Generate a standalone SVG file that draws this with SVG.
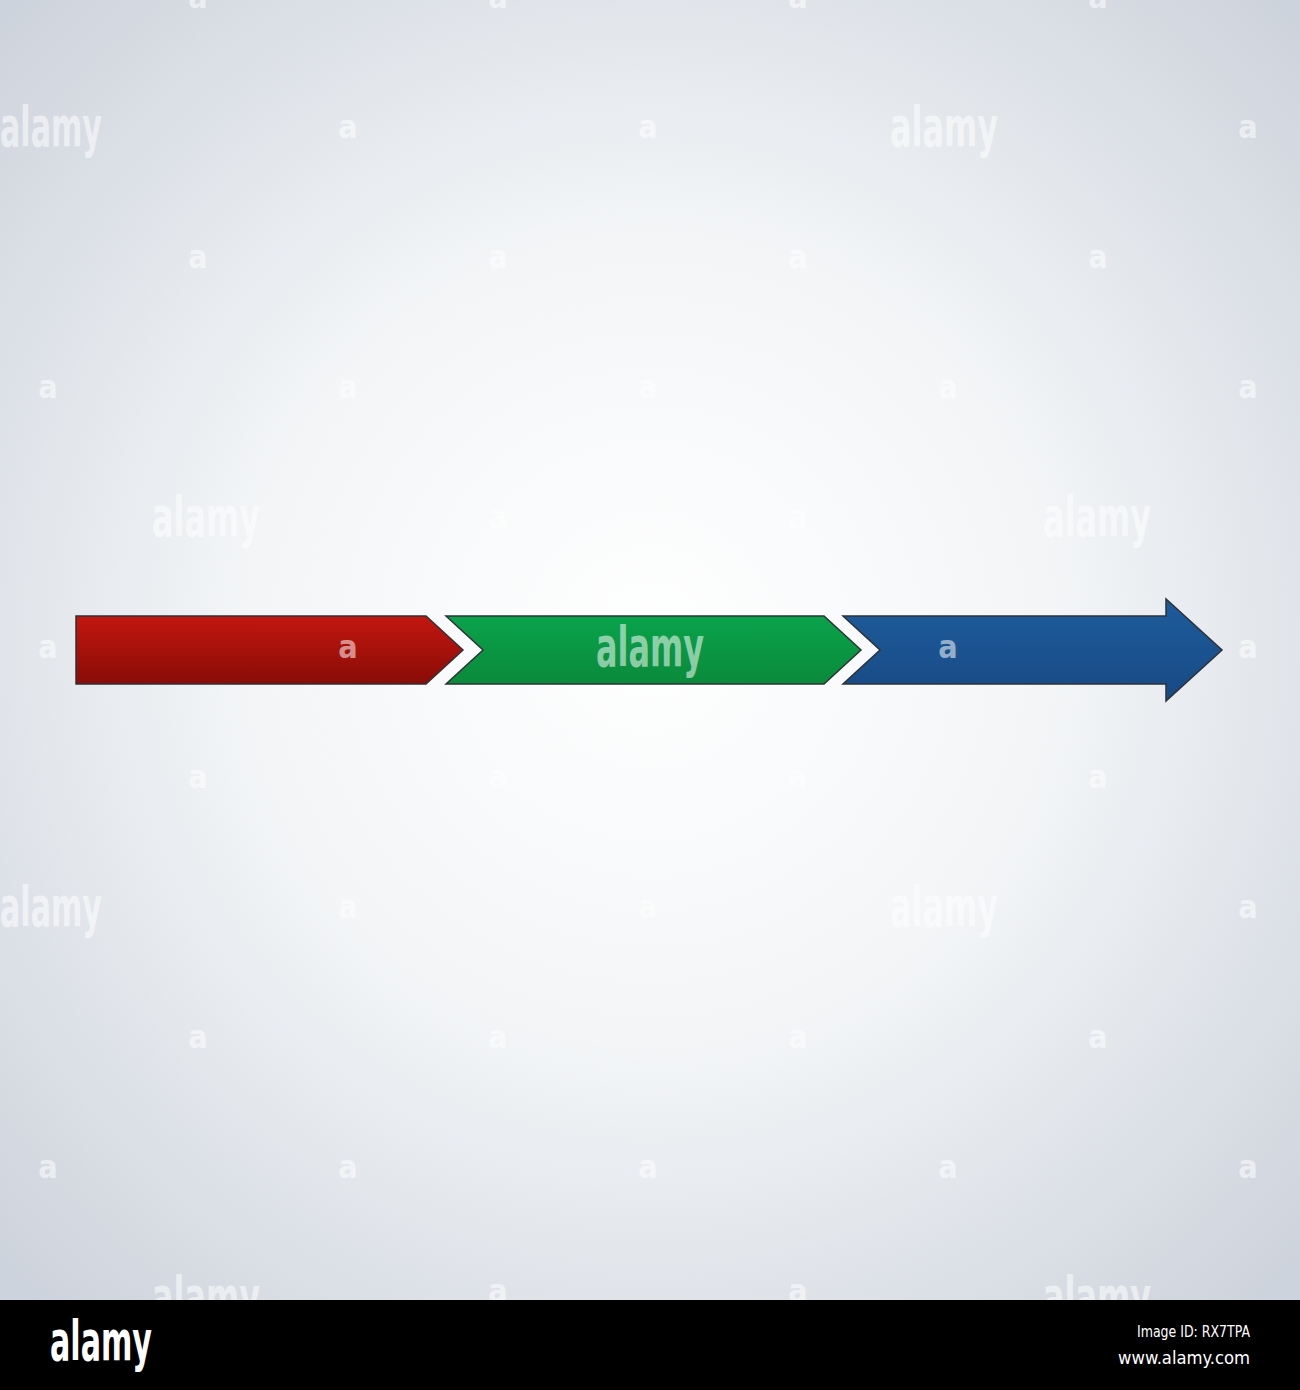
<svg xmlns="http://www.w3.org/2000/svg" width="1300" height="1390" viewBox="0 0 1300 1390">
<defs>
<radialGradient id="bg" cx="650" cy="640" r="900" gradientUnits="userSpaceOnUse">
<stop offset="0" stop-color="#ffffff"/>
<stop offset="0.45" stop-color="#f3f5f7"/>
<stop offset="1" stop-color="#cdd3dc"/>
</radialGradient>
<linearGradient id="gr" x1="0" y1="0" x2="0" y2="1">
<stop offset="0" stop-color="#c2170f"/>
<stop offset="1" stop-color="#8a0c07"/>
</linearGradient>
<linearGradient id="gg" x1="0" y1="0" x2="0" y2="1">
<stop offset="0" stop-color="#0aa34c"/>
<stop offset="1" stop-color="#0a8a3b"/>
</linearGradient>
<linearGradient id="gb" x1="0" y1="0" x2="0" y2="1">
<stop offset="0" stop-color="#1e5c9c"/>
<stop offset="1" stop-color="#174984"/>
</linearGradient>
</defs>
<style>
.seg{stroke:#2e3236;stroke-width:1.5;stroke-linejoin:miter}
.wm{font-family:"DejaVu Sans","Liberation Sans",sans-serif;font-stretch:condensed;font-weight:bold;fill:#ffffff;fill-opacity:0.55;text-anchor:middle}
.big{font-size:56px}
.sm{font-size:32px}
.ft{font-family:"DejaVu Sans","Liberation Sans",sans-serif;font-stretch:condensed;fill:#ffffff}
</style>
<rect width="1300" height="1300" fill="url(#bg)"/>
<g id="watermarks">
<text class="wm big" x="51" y="146" textLength="102" lengthAdjust="spacingAndGlyphs">alamy</text>
<text class="wm big" x="944" y="146" textLength="108" lengthAdjust="spacingAndGlyphs">alamy</text>
<text class="wm big" x="206" y="536" textLength="108" lengthAdjust="spacingAndGlyphs">alamy</text>
<text class="wm big" x="1097" y="536" textLength="108" lengthAdjust="spacingAndGlyphs">alamy</text>
<text class="wm big" x="51" y="926" textLength="102" lengthAdjust="spacingAndGlyphs">alamy</text>
<text class="wm big" x="944" y="926" textLength="108" lengthAdjust="spacingAndGlyphs">alamy</text>
<text class="wm big" x="206" y="1316" textLength="108" lengthAdjust="spacingAndGlyphs">alamy</text>
<text class="wm big" x="1097" y="1316" textLength="108" lengthAdjust="spacingAndGlyphs">alamy</text>
<text class="wm sm" x="198" y="8">a</text><text class="wm sm" x="498" y="8">a</text><text class="wm sm" x="798" y="8">a</text><text class="wm sm" x="1098" y="8">a</text>
<text class="wm sm" x="348" y="138">a</text><text class="wm sm" x="648" y="138">a</text><text class="wm sm" x="1248" y="138">a</text>
<text class="wm sm" x="198" y="268">a</text><text class="wm sm" x="498" y="268">a</text><text class="wm sm" x="798" y="268">a</text><text class="wm sm" x="1098" y="268">a</text>
<text class="wm sm" x="48" y="398">a</text><text class="wm sm" x="348" y="398">a</text><text class="wm sm" x="648" y="398">a</text><text class="wm sm" x="948" y="398">a</text><text class="wm sm" x="1248" y="398">a</text>
<text class="wm sm" x="498" y="528">a</text><text class="wm sm" x="798" y="528">a</text>
<text class="wm sm" x="48" y="658">a</text><text class="wm sm" x="1248" y="658">a</text>
<text class="wm sm" x="198" y="788">a</text><text class="wm sm" x="498" y="788">a</text><text class="wm sm" x="798" y="788">a</text><text class="wm sm" x="1098" y="788">a</text>
<text class="wm sm" x="348" y="918">a</text><text class="wm sm" x="648" y="918">a</text><text class="wm sm" x="1248" y="918">a</text>
<text class="wm sm" x="198" y="1048">a</text><text class="wm sm" x="498" y="1048">a</text><text class="wm sm" x="798" y="1048">a</text><text class="wm sm" x="1098" y="1048">a</text>
<text class="wm sm" x="48" y="1178">a</text><text class="wm sm" x="348" y="1178">a</text><text class="wm sm" x="648" y="1178">a</text><text class="wm sm" x="948" y="1178">a</text><text class="wm sm" x="1248" y="1178">a</text>
<text class="wm sm" x="498" y="1302">a</text><text class="wm sm" x="798" y="1302">a</text>
</g>
<g id="node-red">
<path class="seg" fill="url(#gr)" d="M76,616 H426 L463,650 L426,684 H76 Z"/>
</g>
<g id="node-green">
<path class="seg" fill="url(#gg)" d="M446,616 H824 L861,650 L824,684 H446 L483,650 Z"/>
</g>
<g id="node-blue">
<path class="seg" fill="url(#gb)" d="M843,616 H1166 V599 L1222,650 L1166,701 V684 H843 L880,650 Z"/>
</g>
<g id="connectors"></g>
<g id="overlay">
<text class="wm big" x="650" y="666" textLength="108" lengthAdjust="spacingAndGlyphs">alamy</text>
<text class="wm sm" x="348" y="658">a</text>
<text class="wm sm" x="948" y="658">a</text>
</g>
<g id="footer">
<rect x="0" y="1300" width="1300" height="90" fill="#000000"/>
<text class="ft" x="50" y="1360" font-size="56" font-weight="bold" textLength="102" lengthAdjust="spacingAndGlyphs">alamy</text>
<text class="ft" x="1250" y="1337" font-size="15" text-anchor="end" textLength="113" lengthAdjust="spacingAndGlyphs">Image ID: RX7TPA</text>
<text class="ft" x="1250" y="1364" font-size="18" text-anchor="end" textLength="132" lengthAdjust="spacingAndGlyphs">www.alamy.com</text>
</g>
</svg>
